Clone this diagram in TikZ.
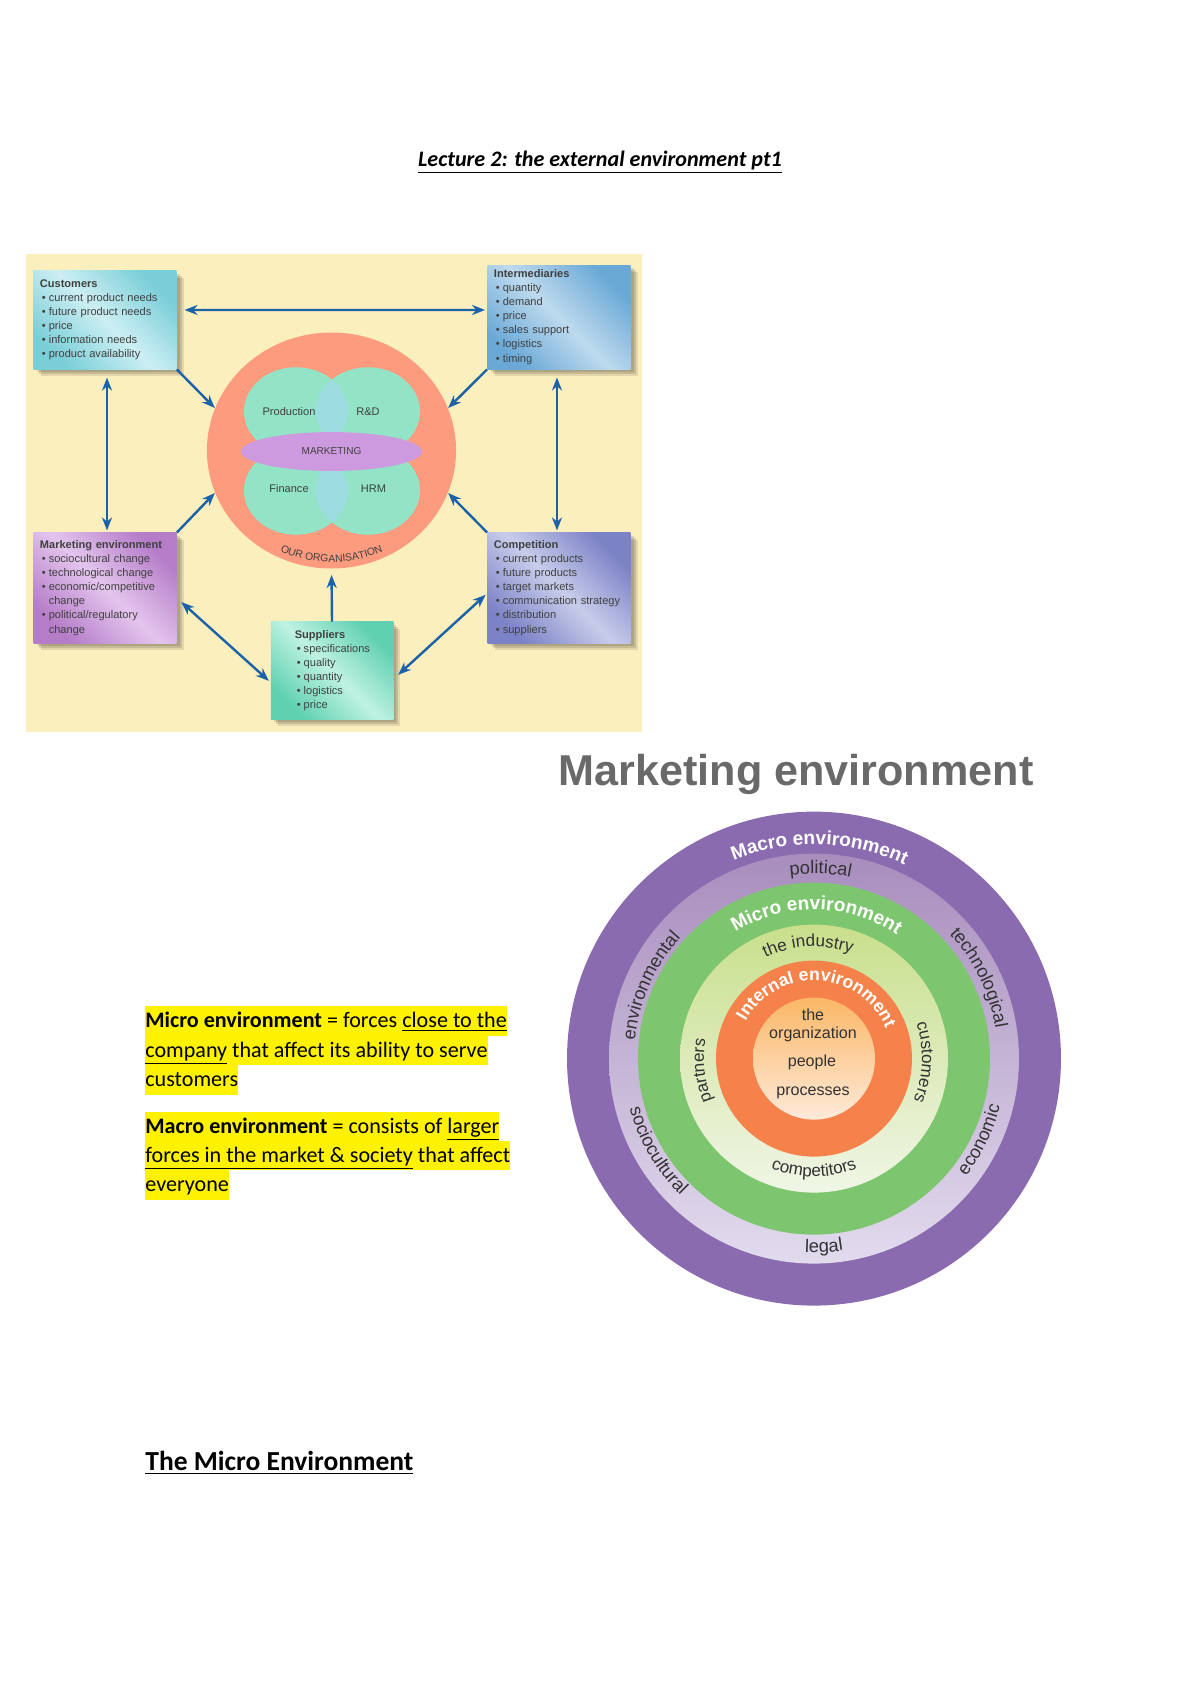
\documentclass[tikz,border=0pt]{standalone}
\usepackage{fontspec}
\setmainfont{Carlito}
\setsansfont{Liberation Sans}
\definecolor{panelcream}{RGB}{252, 239, 190}
\definecolor{arrowblue}{RGB}{28, 98, 168}
\definecolor{orgsalmon}{RGB}{253, 155, 127}
\definecolor{petalgreen}{RGB}{147, 227, 199}
\definecolor{lensblue}{RGB}{157, 220, 224}
\definecolor{mktlilac}{RGB}{206, 154, 223}
\definecolor{macropurple}{RGB}{139, 107, 176}
\definecolor{factortop}{RGB}{168, 141, 189}
\definecolor{factorlow}{RGB}{226, 219, 238}
\definecolor{microgreen}{RGB}{125, 197, 110}
\definecolor{industrytop}{RGB}{201, 223, 140}
\definecolor{industrylow}{RGB}{240, 246, 230}
\definecolor{internalorange}{RGB}{245, 130, 74}
\definecolor{orgtop}{RGB}{251, 183, 102}
\definecolor{orglow}{RGB}{254, 234, 218}
\definecolor{ringink}{RGB}{50, 50, 50}
\definecolor{titlegrey}{RGB}{105, 105, 105}
\definecolor{custdark}{RGB}{122, 206, 216}
\definecolor{custlight}{RGB}{205, 239, 243}
\definecolor{interdark}{RGB}{106, 169, 214}
\definecolor{interlight}{RGB}{190, 218, 238}
\definecolor{envdark}{RGB}{181, 124, 200}
\definecolor{envlight}{RGB}{228, 197, 238}
\definecolor{compdark}{RGB}{124, 130, 198}
\definecolor{complight}{RGB}{200, 205, 235}
\definecolor{supdark}{RGB}{95, 208, 176}
\definecolor{suplight}{RGB}{191, 242, 226}
\usetikzlibrary{shapes.geometric, arrows.meta, decorations.text, shadows}
\tikzset{
  bizbox/.style={rectangle, shading=axis, left color=#1dark, right color=#1dark, middle color=#1light, shading angle=135, align=left, text=black!75, inner ysep=0pt,
    font=\sffamily\fontsize{5.5}{7}\selectfont,
    drop shadow={shadow xshift=3.6pt, shadow yshift=-3.6pt, fill=black, opacity=.1},
    drop shadow={shadow xshift=2.6pt, shadow yshift=-2.6pt, fill=black, opacity=.12},
    drop shadow={shadow xshift=1.6pt, shadow yshift=-1.6pt, fill=black, opacity=.12}},
  flow/.style={line width=1.2pt, arrowblue, -{Stealth[length=6.5pt, width=5pt]}},
  dualflow/.style={line width=1.2pt, arrowblue, {Stealth[length=6.5pt, width=5pt]}-{Stealth[length=6.5pt, width=5pt]}},
  petal/.style={ellipse, fill=petalgreen, minimum width=1.82cm, minimum height=1.55cm, inner sep=0pt},
  tinylabel/.style={font=\sffamily\fontsize{5.5}{7}\selectfont, text=black!75},
  ring/.style={circle, inner sep=0pt, minimum size=#1},
  ringtext/.style={font=\sffamily\fontsize{8}{10}\selectfont, text=ringink},
  ringlabel/.style={decorate, decoration={text along path, text align=center, text={#1}}},
  hilite/.style={fill=yellow, anchor=west, inner xsep=0pt, inner ysep=0pt, text height=10.6pt, text depth=4pt, font=\fontsize{11}{14}\selectfont}
}
\newcommand{\ringdark}{\sffamily\fontsize{9.1}{11}\selectfont\color{ringink}}
\newcommand{\ringsmall}{\sffamily\fontsize{8.5}{10}\selectfont\color{ringink}}
\newcommand{\ringwhite}{\sffamily\bfseries\fontsize{9.5}{11}\selectfont\color{white}}
\newcommand{\ringwhitesmall}{\sffamily\bfseries\fontsize{8.8}{10}\selectfont\color{white}}
\newcommand{\arcover}[4]{\path[ringlabel={|#1|#4}] ({#3+80}:#2) arc[start angle=#3+80, end angle=#3-80, radius=#2];}
\newcommand{\arcunder}[4]{\path[ringlabel={|#1|#4}] ({#3-80}:#2) arc[start angle=#3-80, end angle=#3+80, radius=#2];}
\newcommand{\itm}{\hspace{1pt}\textbullet\hspace{1.5pt}}
\newcommand{\itmgap}{\hspace{1pt}\hphantom{\textbullet}\hspace{1.5pt}}

\begin{document}
\begin{tikzpicture}[x=0.0175cm, y=-0.0175cm]
  \useasboundingbox (0,0) rectangle (1200,1698);

  % Page title
  \node[font=\bfseries\itshape\fontsize{11}{14}\selectfont, inner sep=0pt] (pagetitle) at (600,162) {\underline{Lecture 2: the external environment pt1}};

  % Cream panel
  \node[fill=panelcream, minimum width=10.78cm, minimum height=8.365cm, inner sep=0pt] (panel) at (334,493) {};

  % Our organisation
  \node[ellipse, fill=orgsalmon, minimum width=4.36cm, minimum height=4.13cm, inner sep=0pt] (orgcircle) at (331.5,450.5) {};
  \node[petal] (petalA) at (296,411.5) {};
  \node[petal] (petalB) at (368,411.5) {};
  \node[petal] (petalC) at (296,490.5) {};
  \node[petal] (petalD) at (368,490.5) {};
  \begin{scope}
    \clip (296,411.5) ellipse [x radius=52, y radius=44.3];
    \fill[lensblue] (368,411.5) ellipse [x radius=52, y radius=44.3];
  \end{scope}
  \begin{scope}
    \clip (296,490.5) ellipse [x radius=52, y radius=44.3];
    \fill[lensblue] (368,490.5) ellipse [x radius=52, y radius=44.3];
  \end{scope}
  \node[ellipse, fill=mktlilac, minimum width=3.17cm, minimum height=0.68cm, inner sep=0pt, tinylabel, font=\sffamily\fontsize{5}{6}\selectfont] (marketing) at (331.5,451.5) {MARKETING};
  \node[tinylabel] (production) at (289,411.5) {Production};
  \node[tinylabel] (rnd) at (368,411.5) {R\&D};
  \node[tinylabel] (finance) at (289,488.5) {Finance};
  \node[tinylabel] (hrm) at (373.5,488.5) {HRM};
  \begin{scope}[shift={(331.5,450.5)}, y=0.0175cm]
    \path[ringlabel={|\sffamily\fontsize{5.2}{6}\selectfont\color{black!75}|OUR ORGANISATION}] (-60,-96) .. controls (-25,-117) and (25,-117) .. (60,-96);
  \end{scope}

  % Boxes round it
  \node[bizbox=cust, minimum width=2.5cm, minimum height=1.72cm, inner xsep=3.2pt, text width=64.8pt] (customers) at (105,320) {\textbf{Customers}\\\itm current product needs\\\itm future product needs\\\itm price\\\itm information needs\\\itm product availability};
  \node[bizbox=inter, minimum width=2.5cm, minimum height=1.82cm, inner xsep=3.2pt, text width=64.8pt] (intermediaries) at (559,317) {\textbf{Intermediaries}\\\itm quantity\\\itm demand\\\itm price\\\itm sales support\\\itm logistics\\\itm timing};
  \node[bizbox=env, minimum width=2.5cm, minimum height=1.93cm, inner xsep=3.2pt, text width=64.8pt] (mktenv) at (105,588) {\textbf{Marketing environment}\\\itm sociocultural change\\\itm technological change\\\itm economic/competitive\\\itmgap change\\\itm political/regulatory\\\itmgap change};
  \node[bizbox=comp, minimum width=2.5cm, minimum height=1.93cm, inner xsep=3.2pt, text width=64.8pt] (competition) at (559,588) {\textbf{Competition}\\\itm current products\\\itm future products\\\itm target markets\\\itm communication strategy\\\itm distribution\\\itm suppliers};
  \node[bizbox=sup, minimum width=2.14cm, minimum height=1.7cm, inner xsep=12pt, text width=37pt] (suppliers) at (332,670.5) {\textbf{Suppliers}\\\mbox{\itm specifications}\\\itm quality\\\itm quantity\\\itm logistics\\\itm price};

  % Arrows
  \draw[dualflow, shorten <=3.8pt, shorten >=1pt] ([yshift=5pt]customers.east) -- ([yshift=3.5pt]intermediaries.west);
  \draw[dualflow, shorten <=4pt, shorten >=1pt] ([xshift=1pt]customers.south) -- ([xshift=1pt]mktenv.north);
  \draw[dualflow, shorten <=4pt, shorten >=1pt] ([xshift=-1pt]intermediaries.south) -- ([xshift=-1pt]competition.north);
  \draw[flow] (customers.south east) -- (orgcircle.160);
  \draw[flow] (intermediaries.south west) -- (orgcircle.20);
  \draw[flow] (mktenv.north east) -- (orgcircle.200);
  \draw[flow] (competition.north west) -- (orgcircle.340);
  \draw[flow, shorten >=3pt] (suppliers.north) -- (orgcircle.south);
  \draw[dualflow, shorten <=3pt, shorten >=1pt] ([yshift=-5pt]mktenv.east) -- ([yshift=-5.8pt]suppliers.west);
  \draw[dualflow, shorten <=1pt, shorten >=3pt] ([yshift=-2.7pt]competition.west) -- ([yshift=-4.2pt]suppliers.east);

  % Rings
  \node[font=\sffamily\bfseries\fontsize{21.5}{24}\selectfont, text=titlegrey, inner sep=0pt] (ringtitle) at (796,774) {Marketing environment};
  \begin{scope}[shift={(814,1058.6)}, y=0.0175cm]
    \node[ring=8.645cm, fill=macropurple] (macroring) at (0,0) {};
    \node[ring=7.175cm, top color=factortop, bottom color=factorlow] (factorring) at (0,0) {};
    \node[ring=6.16cm, fill=microgreen] (microring) at (0,0) {};
    \node[ring=4.69cm, top color=industrytop, bottom color=industrylow] (industryring) at (0,0) {};
    \node[ring=3.43cm, fill=internalorange] (internalring) at (0,0) {};
    \node[ring=2.135cm, top color=orgtop, bottom color=orglow] (orgring) at (0,0) {};

    \arcover{\ringwhite}{214}{88.5}{Macro environment}
    \arcover{\ringdark}{185}{88}{political}
    \arcover{\ringwhite}{149}{89}{Micro environment}
    \arcover{\ringsmall}{112}{93}{the industry}
    \arcover{\ringwhitesmall}{78}{87}{Internal environment}
    \arcover{\ringdark}{180}{156}{environmental}
    \arcover{\ringdark}{184}{26}{technological}
    \arcover{\ringsmall}{110}{186}{partners}
    \arcover{\ringsmall}{108}{-2}{customers}
    \arcunder{\ringdark}{191}{210.5}{sociocultural}
    \arcunder{\ringdark}{192}{-26}{economic}
    \arcunder{\ringdark}{194}{-87}{legal}
    \arcunder{\ringsmall}{118}{-90}{competitors}
  \end{scope}
  \node[ringtext] (ringThe) at (813,1015) {the};
  \node[ringtext] (ringOrg) at (813,1034) {organization};
  \node[ringtext] (ringPeople) at (812,1062) {people};
  \node[ringtext] (ringProc) at (813,1093) {processes};

  % Highlighted notes
  \node[hilite] (noteA) at (145,1021) {\textbf{Micro environment} = forces \underline{close to the}};
  \node[hilite] (noteB) at (145,1050.5) {\underline{company} that affect its ability to serve};
  \node[hilite] (noteC) at (145,1080) {customers};
  \node[hilite] (noteD) at (145,1126.5) {\textbf{Macro environment} = consists of \underline{larger}};
  \node[hilite] (noteE) at (145,1155.5) {\underline{forces in the market \& society} that affect};
  \node[hilite] (noteF) at (145,1185) {everyone};

  % Heading
  \node[font=\bfseries\fontsize{13.7}{16}\selectfont, anchor=west, inner sep=0pt] (microhead) at (145,1463) {\underline{The Micro Environment}};
\end{tikzpicture}
\end{document}
